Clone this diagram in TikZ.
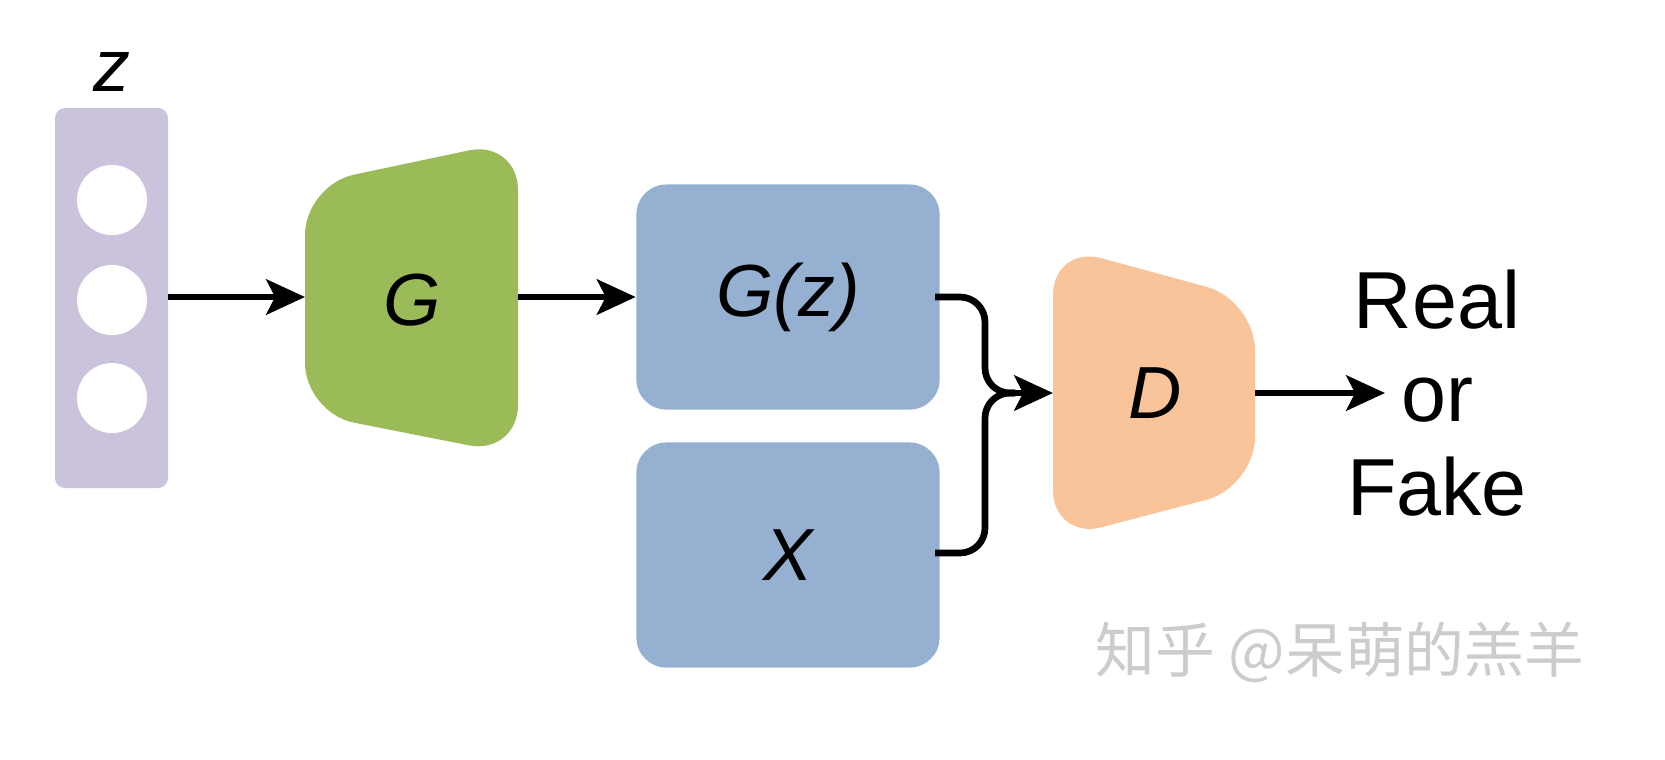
\documentclass[tikz,border=0pt]{standalone}
\usepackage{fontspec}
\setmainfont{Liberation Sans}
\newfontfamily\cjk{Noto Sans CJK SC}
\usetikzlibrary{arrows.meta}
\definecolor{cpur}{HTML}{CBC3DC}
\definecolor{cgrn}{HTML}{9BBB59}
\definecolor{cblu}{HTML}{95B0D0}
\definecolor{corg}{HTML}{F9C499}
\begin{document}
\begin{tikzpicture}[x=0.01cm,y=-0.01cm,
  arr/.style={line width=1.9pt,-{Stealth[length=11pt,width=10pt,inset=2.5pt]}},
  con/.style={line width=1.9pt,rounded corners=0.25cm},
  lbl/.style={font=\fontsize{21}{24}\selectfont\itshape},
  big/.style={font=\fontsize{23}{26.5}\selectfont,align=center}]
\useasboundingbox (0,0) rectangle (1665,759);
\fill[cpur,rounded corners=0.1cm] (55,108) rectangle (168,488);
\foreach \y/\n in {200/c1,300/c2,398/c3}
  \node[circle,fill=white,inner sep=0,minimum size=0.7cm] (\n) at (112,\y) {};
\node[lbl] (zl) at (112,72) {z};
\coordinate (zr) at (168,297);
\fill[cgrn,rounded corners=0.5cm] (305,185) -- (518,140) -- (518,455) -- (305,413) -- cycle;
\node[lbl] (G) at (412,300) {G};
\coordinate (gl) at (305,297);
\coordinate (gr) at (518,297);
\draw[arr] (zr) -- (gl);
\node[fill=cblu,rounded corners=0.3cm,minimum width=3.03cm,minimum height=2.25cm,inner sep=0] (gz) at (788,297) {};
\node[lbl] at (gz) {G(z)};
\node[fill=cblu,rounded corners=0.3cm,minimum width=3.03cm,minimum height=2.25cm,inner sep=0] (x) at (788,555) {};
\node[lbl] at (x) {X};
\draw[arr] (gr) -- (gz.west);
\fill[corg,rounded corners=0.5cm] (1053,245) -- (1255,300) -- (1255,487) -- (1053,540) -- cycle;
\node[lbl] (D) at (1155,393) {D};
\coordinate (dl) at (1053,393);
\coordinate (dr) at (1255,393);
\draw[con] (935,297) -- (985,297) -- (985,393) -- (1015,393);
\draw[con] (935,553) -- (985,553) -- (985,393) -- (1015,393);
\draw[arr] (1010,393) -- (dl);
\draw[arr] (dr) -- (1385,393);
\node[big] (rf) at (1437,393) {Real\\or\\Fake};
\node[text=gray!40,font=\cjk\fontsize{17}{20}\selectfont] (wm) at (1340,652) {知乎 @呆萌的羔羊};
\end{tikzpicture}
\end{document}
